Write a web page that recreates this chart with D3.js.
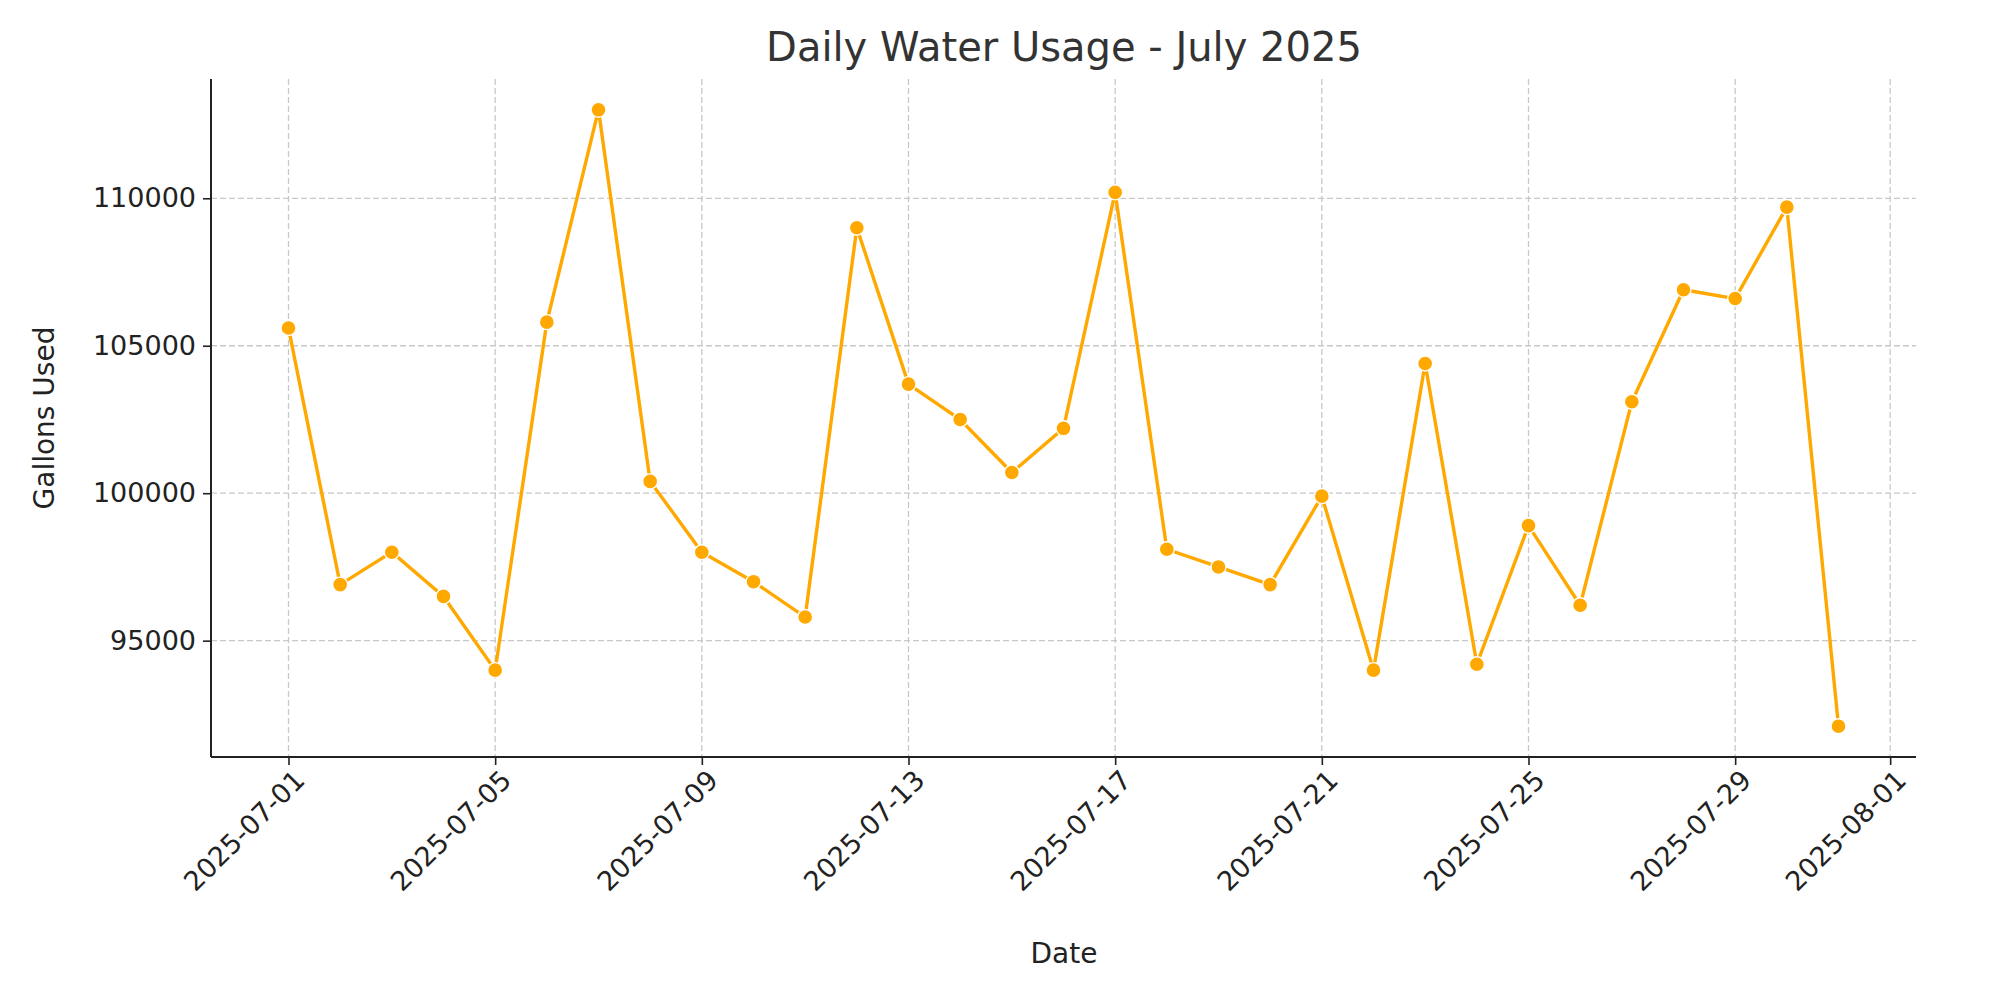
<!DOCTYPE html><html><head><meta charset="utf-8"><script src="https://cdn.jsdelivr.net/npm/d3@7"></script>
<style>body{margin:0;background:#fff}text{font-family:"DejaVu Sans",sans-serif}</style></head><body>
<svg id="c" width="2000" height="1000"></svg>
<script>
const dates = d3.range(1,32).map(d=>`2025-07-${String(d).padStart(2,"0")}`);
const gallons = [105600,96900,98000,96500,94000,105800,113000,100400,98000,97000,95800,109000,103700,102500,100700,102200,110200,98100,97500,96900,99900,94000,104400,94200,98900,96200,103100,106900,106600,109700,92100];
const xTickLabels = ["2025-07-01","2025-07-05","2025-07-09","2025-07-13","2025-07-17","2025-07-21","2025-07-25","2025-07-29","2025-08-01"];
const yTicks = [95000,100000,105000,110000];

const svg = d3.select("#c");
const L=211,R=1916,T=79,B=757;
const pd = d3.utcParse("%Y-%m-%d");
const data = dates.map((d,i)=>({d:pd(d),v:gallons[i]}));
const x = d3.scaleUtc().domain([new Date(Date.UTC(2025,5,29,12)),new Date(Date.UTC(2025,7,1,12))]).range([L,R]);
const y = d3.scaleLinear().domain([91055,114045]).range([B,T]);
const xt = xTickLabels.map(pd);

const g = svg.append("g");
g.selectAll(".vg").data(xt).enter().append("line").attr("x1",d=>x(d)).attr("x2",d=>x(d)).attr("y1",T).attr("y2",B)
 .attr("stroke","#c8c8c8").attr("stroke-width",1.3).attr("stroke-dasharray","6,3");
g.selectAll(".hg").data(yTicks).enter().append("line").attr("x1",L).attr("x2",R).attr("y1",d=>y(d)).attr("y2",d=>y(d))
 .attr("stroke","#c8c8c8").attr("stroke-width",1.3).attr("stroke-dasharray","6,3");

const xa = svg.append("g").attr("transform",`translate(0,${B})`)
 .call(d3.axisBottom(x).tickValues(xt).tickFormat(d3.utcFormat("%Y-%m-%d")).tickSizeOuter(0).tickSize(8).tickPadding(7));
xa.selectAll("text").attr("font-size",27).attr("fill","#222").attr("text-anchor","end")
 .attr("transform","rotate(-45)").attr("dx","-0.2em").attr("dy","0.55em");
const ya = svg.append("g").attr("transform",`translate(${L},0)`)
 .call(d3.axisLeft(y).tickValues(yTicks).tickFormat(d3.format("d")).tickSizeOuter(0).tickSize(8).tickPadding(7));
ya.selectAll("text").attr("font-size",27).attr("fill","#222");
[xa,ya].forEach(a=>{a.select(".domain").attr("stroke","#222").attr("stroke-width",2);a.selectAll(".tick line").attr("stroke","#222").attr("stroke-width",1.6);});
xa.select(".domain").attr("d",`M${L},0H${R}`);
ya.select(".domain").attr("d",`M0,${T}V${B}`);

svg.append("path").datum(data).attr("fill","none").attr("stroke","#FFA800").attr("stroke-width",3.4)
 .attr("d",d3.line().x(d=>x(d.d)).y(d=>y(d.v)));
svg.selectAll(".pt").data(data).enter().append("circle").attr("cx",d=>x(d.d)).attr("cy",d=>y(d.v)).attr("r",7.5)
 .attr("fill","#FFA800").attr("stroke","#fff").attr("stroke-width",1.4);

svg.append("text").attr("x",1064).attr("y",61).attr("text-anchor","middle").attr("font-size",40).attr("fill","#333").text("Daily Water Usage - July 2025");
svg.append("text").attr("x",1064).attr("y",963).attr("text-anchor","middle").attr("font-size",28).attr("fill","#222").text("Date");
svg.append("text").attr("transform",`translate(54,${(T+B)/2}) rotate(-90)`).attr("text-anchor","middle").attr("font-size",28).attr("fill","#222").text("Gallons Used");
</script></body></html>
